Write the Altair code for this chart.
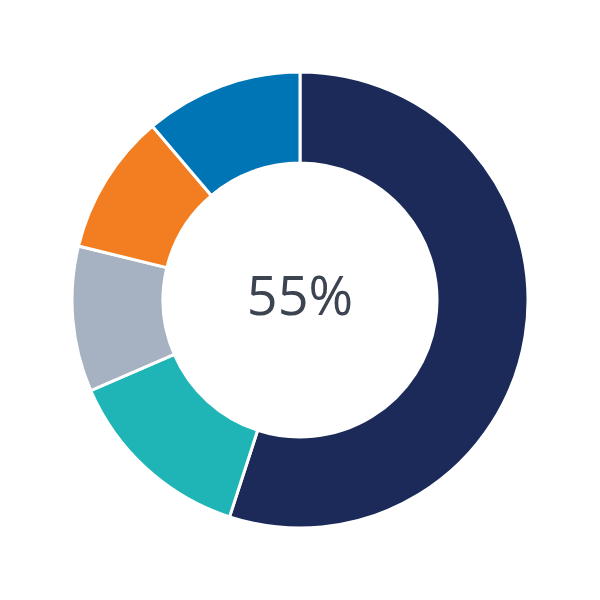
import altair as alt
import pandas as pd

segments = ["Navy", "Teal", "Gray", "Orange", "Blue"]
shares = [55.0, 13.5, 10.3, 10.0, 11.2]
colors = ["#1c2a5a", "#1fb5b7", "#a6b2c1", "#f27e21", "#0075b6"]
center_label = "55%"

df = pd.DataFrame({"segment": segments, "share": shares, "order": list(range(len(segments)))})

arcs = alt.Chart(df).mark_arc(
    innerRadius=137, outerRadius=228, stroke="white", strokeWidth=3
).encode(
    theta=alt.Theta("share:Q", stack=True),
    color=alt.Color("segment:N", scale=alt.Scale(domain=segments, range=colors), legend=None),
    order=alt.Order("order:Q"),
)

label = alt.Chart(pd.DataFrame({"t": [center_label]})).mark_text(
    font="Open Sans", fontSize=54, fontWeight=400, color="#3b4450",
    align="center", baseline="alphabetic"
).encode(
    text="t:N",
    x=alt.value(292),
    y=alt.value(307),
)

chart = alt.layer(arcs, label).properties(
    width=584, height=584, padding=0
).configure_view(stroke=None)

chart.save("out.html", embed_options={"renderer": "svg", "actions": False})
